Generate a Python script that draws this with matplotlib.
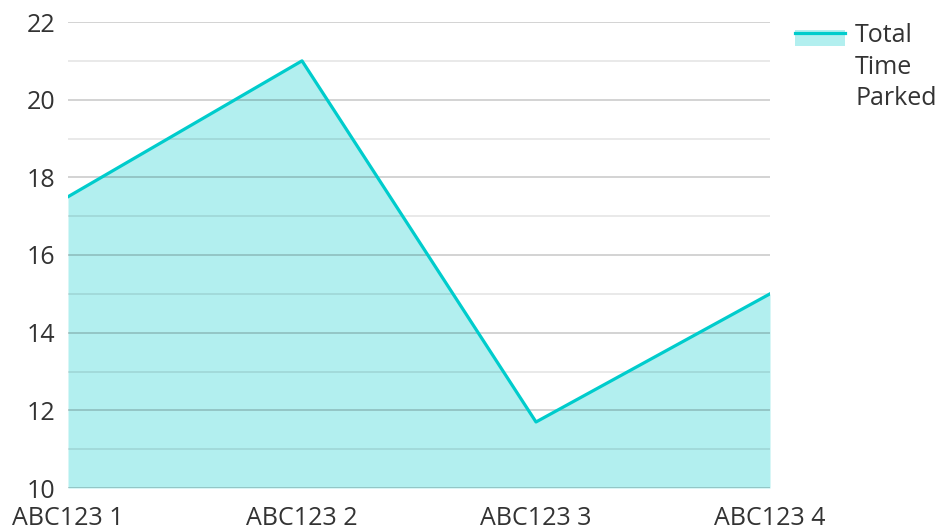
import matplotlib.pyplot as plt
from matplotlib.patches import Rectangle
from matplotlib.lines import Line2D

plt.rcParams['font.family'] = ['Open Sans', 'DejaVu Sans']

categories = ['ABC123 1', 'ABC123 2', 'ABC123 3', 'ABC123 4']
time_parked = [17.5, 21.0, 11.7, 15.0]
series_name = 'Total\nTime\nParked'

LINE = '#00cccc'
FILL = '#b2efef'
TEXT = '#333333'
W, H = 936, 529

fig = plt.figure(figsize=(W / 100, H / 100), dpi=100)
ax = fig.add_axes([68 / W, 41 / H, 702 / W, 466 / H])

x = list(range(len(categories)))
ax.fill_between(x, time_parked, 10, color=FILL, lw=0, zorder=1)
ax.plot(x, time_parked, color=LINE, lw=2.3, zorder=3)

ax.set_xlim(0, len(categories) - 1)
ax.set_ylim(10, 22)
ax.set_yticks(range(10, 23, 2))
ax.set_yticks(range(11, 22, 2), minor=True)
ax.set_xticks(x)
ax.set_xticklabels(categories)
ax.grid(axis='y', which='major', color='black', alpha=0.2, lw=1.2, zorder=2)
ax.grid(axis='y', which='minor', color='black', alpha=0.1, lw=1.2, zorder=2)
ax.set_axisbelow(False)
for s in ax.spines.values():
    s.set_visible(False)
ax.tick_params(axis='both', which='both', length=0, labelsize=18, colors=TEXT)
ax.tick_params(axis='y', pad=9)
ax.tick_params(axis='x', pad=13)

# legend drawn by hand: fill swatch with the line on its top edge
fig.add_artist(Rectangle((795 / W, 1 - 46 / H), 50 / W, 16 / H, fc=FILL, ec='none',
                         transform=fig.transFigure))
fig.add_artist(Line2D([795 / W, 845 / W], [1 - 32.5 / H] * 2, color=LINE, lw=2.3,
                      transform=fig.transFigure))
for i, line in enumerate(series_name.split('\n')):
    fig.text(855 / W, 1 - (42 + 31.5 * i) / H, line, fontsize=18, color=TEXT,
             va='baseline', ha='left')

fig.savefig('out.png', dpi=100)
